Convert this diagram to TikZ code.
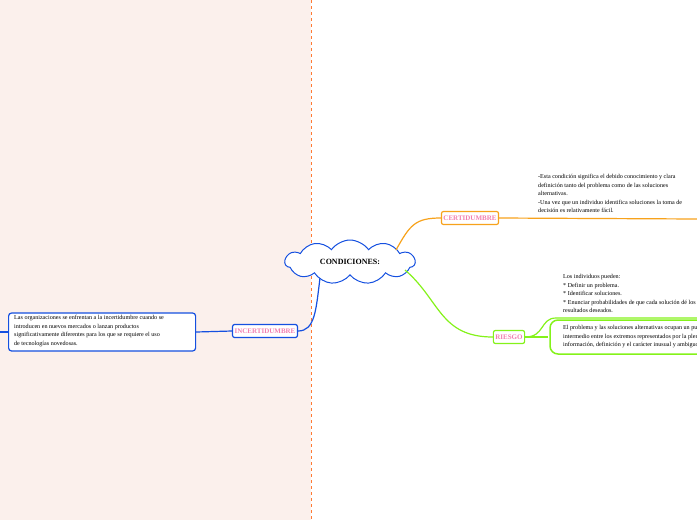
\documentclass[tikz,border=0pt]{standalone}
\usepackage{fontspec}
\setmainfont{Liberation Serif}
\usetikzlibrary{shapes.symbols}
\definecolor{bgpink}{HTML}{FBF0EC}
\definecolor{orng}{HTML}{F7A21B}
\definecolor{grn}{HTML}{84F21A}
\definecolor{blu}{HTML}{1550E0}
\definecolor{lbl}{HTML}{F27FB0}
\tikzset{
 tag/.style={draw=#1,line width=1.2pt,rounded corners=2pt,fill=white,font=\fontsize{7}{8}\selectfont\bfseries,text=lbl,inner sep=2pt,minimum height=13pt},
 txt/.style={align=left,font=\fontsize{6.1}{8.6}\selectfont,inner sep=0pt,anchor=north west},
}
\begin{document}
\begin{tikzpicture}[x=1pt,y=-1pt]
\useasboundingbox (0,0) rectangle (697,520);
\fill[bgpink] (0,0) rectangle (311,520);
\draw[orange!70!red!80,dashed] (311,0) -- (311,520);
\node[cloud,draw=blu,fill=white,line width=1pt,cloud puffs=11,cloud puff arc=110,aspect=3,minimum width=130,minimum height=44,font=\fontsize{8}{9}\selectfont\bfseries] (c) at (350,262) {CONDICIONES:};
% CERTIDUMBRE
\node[tag=orng] (cert) at (470,218) {CERTIDUMBRE};
\draw[orng,line width=1.2pt] (396,250) .. controls (410,225) and (415,218) .. (cert.west);
\coordinate (certend) at (697,219);
\draw[orng,line width=1.2pt] (cert.east) -- (certend);
\node[txt] (certtxt) at (538,174) {-Esta condición significa el debido conocimiento y clara\\definición tanto del problema como de las soluciones\\alternativas.\\-Una vez que un individuo identifica soluciones la toma de\\decisión es relativamente fácil.};
% RIESGO
\node[tag=grn] (ries) at (509,337) {RIESGO};
\draw[grn,line width=1.2pt] (405,270) .. controls (440,300) and (440,337) .. (ries.west);
\coordinate (rup) at (697,318);
\draw[grn,line width=1.2pt] (ries.east) .. controls (545,337) and (540,318) .. (556,318) -- (rup);
\draw[grn,line width=1.2pt] (ries.east) -- (548,337);
\draw[grn,line width=1.5pt,rounded corners=8pt] (700,320) -- (550,320) -- (550,354) -- (700,354);
\node[txt] (rtxt1) at (563,274) {Los individuos pueden:\\* Definir un problema.\\* Identificar soluciones.\\* Enunciar probabilidades de que cada solución dé los\\resultados deseados.};
\node[txt] (rtxt2) at (563,325) {El problema y las soluciones alternativas ocupan un punto\\intermedio entre los extremos representados por la plena\\información, definición y el carácter inusual y ambiguo.};
% INCERTIDUMBRE
\node[tag=blu] (inc) at (265,331) {INCERTIDUMBRE};
\draw[blu,line width=1.2pt] (320,278) .. controls (316,310) and (315,331) .. (inc.east);
\node[draw=blu,line width=1.2pt,rounded corners=3pt,fill=white,minimum width=187,minimum height=38,anchor=west] (ib) at (8,332) {};
\node[txt] (itxt) at (14,315) {Las organizaciones se enfrentan a la incertidumbre cuando se\\introducen en nuevos mercados o lanzan productos\\significativamente diferentes para los que se requiere el uso\\de tecnologías novedosas.};
\draw[blu,line width=1.2pt] (inc.west) -- (ib.east);
\coordinate (ileft) at (0,332);
\draw[blu,line width=1.2pt] (ib.west) -- (ileft);
\end{tikzpicture}
\end{document}
